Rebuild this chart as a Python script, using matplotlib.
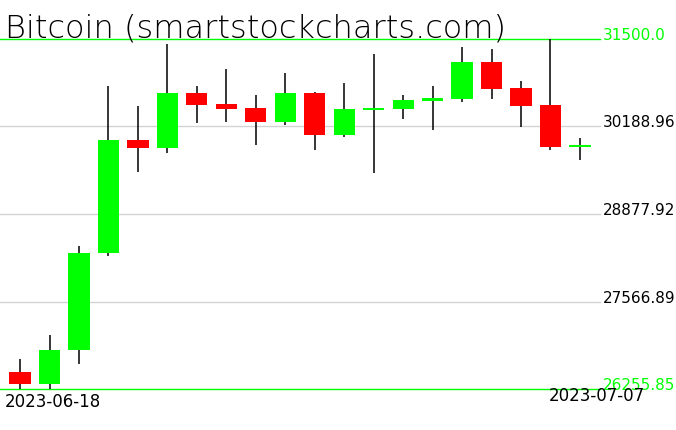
import numpy as np
import matplotlib
matplotlib.use('Agg')
import matplotlib.pyplot as plt

# daily candles
dates = ['2023-06-18', '2023-06-19', '2023-06-20', '2023-06-21', '2023-06-22',
         '2023-06-23', '2023-06-24', '2023-06-25', '2023-06-26', '2023-06-27',
         '2023-06-28', '2023-06-29', '2023-06-30', '2023-07-01', '2023-07-02',
         '2023-07-03', '2023-07-04', '2023-07-05', '2023-07-06', '2023-07-07']
opens = [26510, 26331, 26840, 28300, 29987, 29871, 30691, 30526, 30466, 30261,
         30691, 30066, 30436, 30451, 30576, 30601, 31155, 30766, 30511, 29886]
highs = [26705, 27065, 28398, 30791, 30496, 31425, 30791, 31046, 30656, 30991,
         30706, 30841, 31275, 30661, 30796, 31380, 31350, 30871, 31500.0, 30017]
lows = [26255.85, 26262, 26635, 28253, 29512, 29796, 30241, 30261, 29916, 30216,
        29841, 30036, 29497, 30306, 30141, 30561, 30601, 30181, 29841, 29692]
closes = [26331, 26840, 28300, 29987, 29871, 30691, 30516, 30456, 30261, 30691,
          30066, 30451, 30466, 30586, 30616, 31155, 30751, 30496, 29886, 29912]
price_labels = ['31500.0', '30188.96', '28877.92', '27566.89', '26255.85']

GREEN = '#00ff00'
RED = '#ff0000'

fig = plt.figure(figsize=(6.76, 4.31), dpi=100)
ax = fig.add_axes([0, 41 / 431, 600 / 676, 350 / 431])

x = np.arange(len(dates))
o = np.array(opens)
c = np.array(closes)
up = c >= o
colors = np.where(up, GREEN, RED)

lo, hi = min(lows), max(highs)
levels = np.linspace(hi, lo, 5)

# grid + border lines, about 1px
for i, lv in enumerate(levels):
    col = GREEN if i in (0, 4) else '#d3d3d3'
    ax.axhline(lv, color=col, lw=1.0, zorder=1, clip_on=False)

ax.vlines(x, lows, highs, color='black', lw=1.1, zorder=2)
ax.bar(x, c - o, bottom=o, width=0.72, color=colors, zorder=3)

ax.set_xlim(-0.68, len(dates) - 1 + 0.68)
ax.set_ylim(lo, hi)
ax.axis('off')

for i, (lv, lab) in enumerate(zip(levels, price_labels)):
    col = GREEN if i in (0, 4) else 'black'
    ax.text(1.005, (lv - lo) / (hi - lo), lab, transform=ax.transAxes,
            color=col, fontsize=11, va='baseline', ha='left',
            clip_on=False)

fig.text(5 / 676, 1 - 407 / 431, dates[0], fontsize=12,
         va='baseline', ha='left')
fig.text(645 / 676, 1 - 401 / 431, dates[-1], fontsize=12,
         va='baseline', ha='right')

fig.text(5 / 676, 1 - 37 / 431, 'Bitcoin (smartstockcharts.com)', fontsize=23,
         fontweight=200, va='baseline', ha='left')

plt.savefig('out.png', dpi=100)
